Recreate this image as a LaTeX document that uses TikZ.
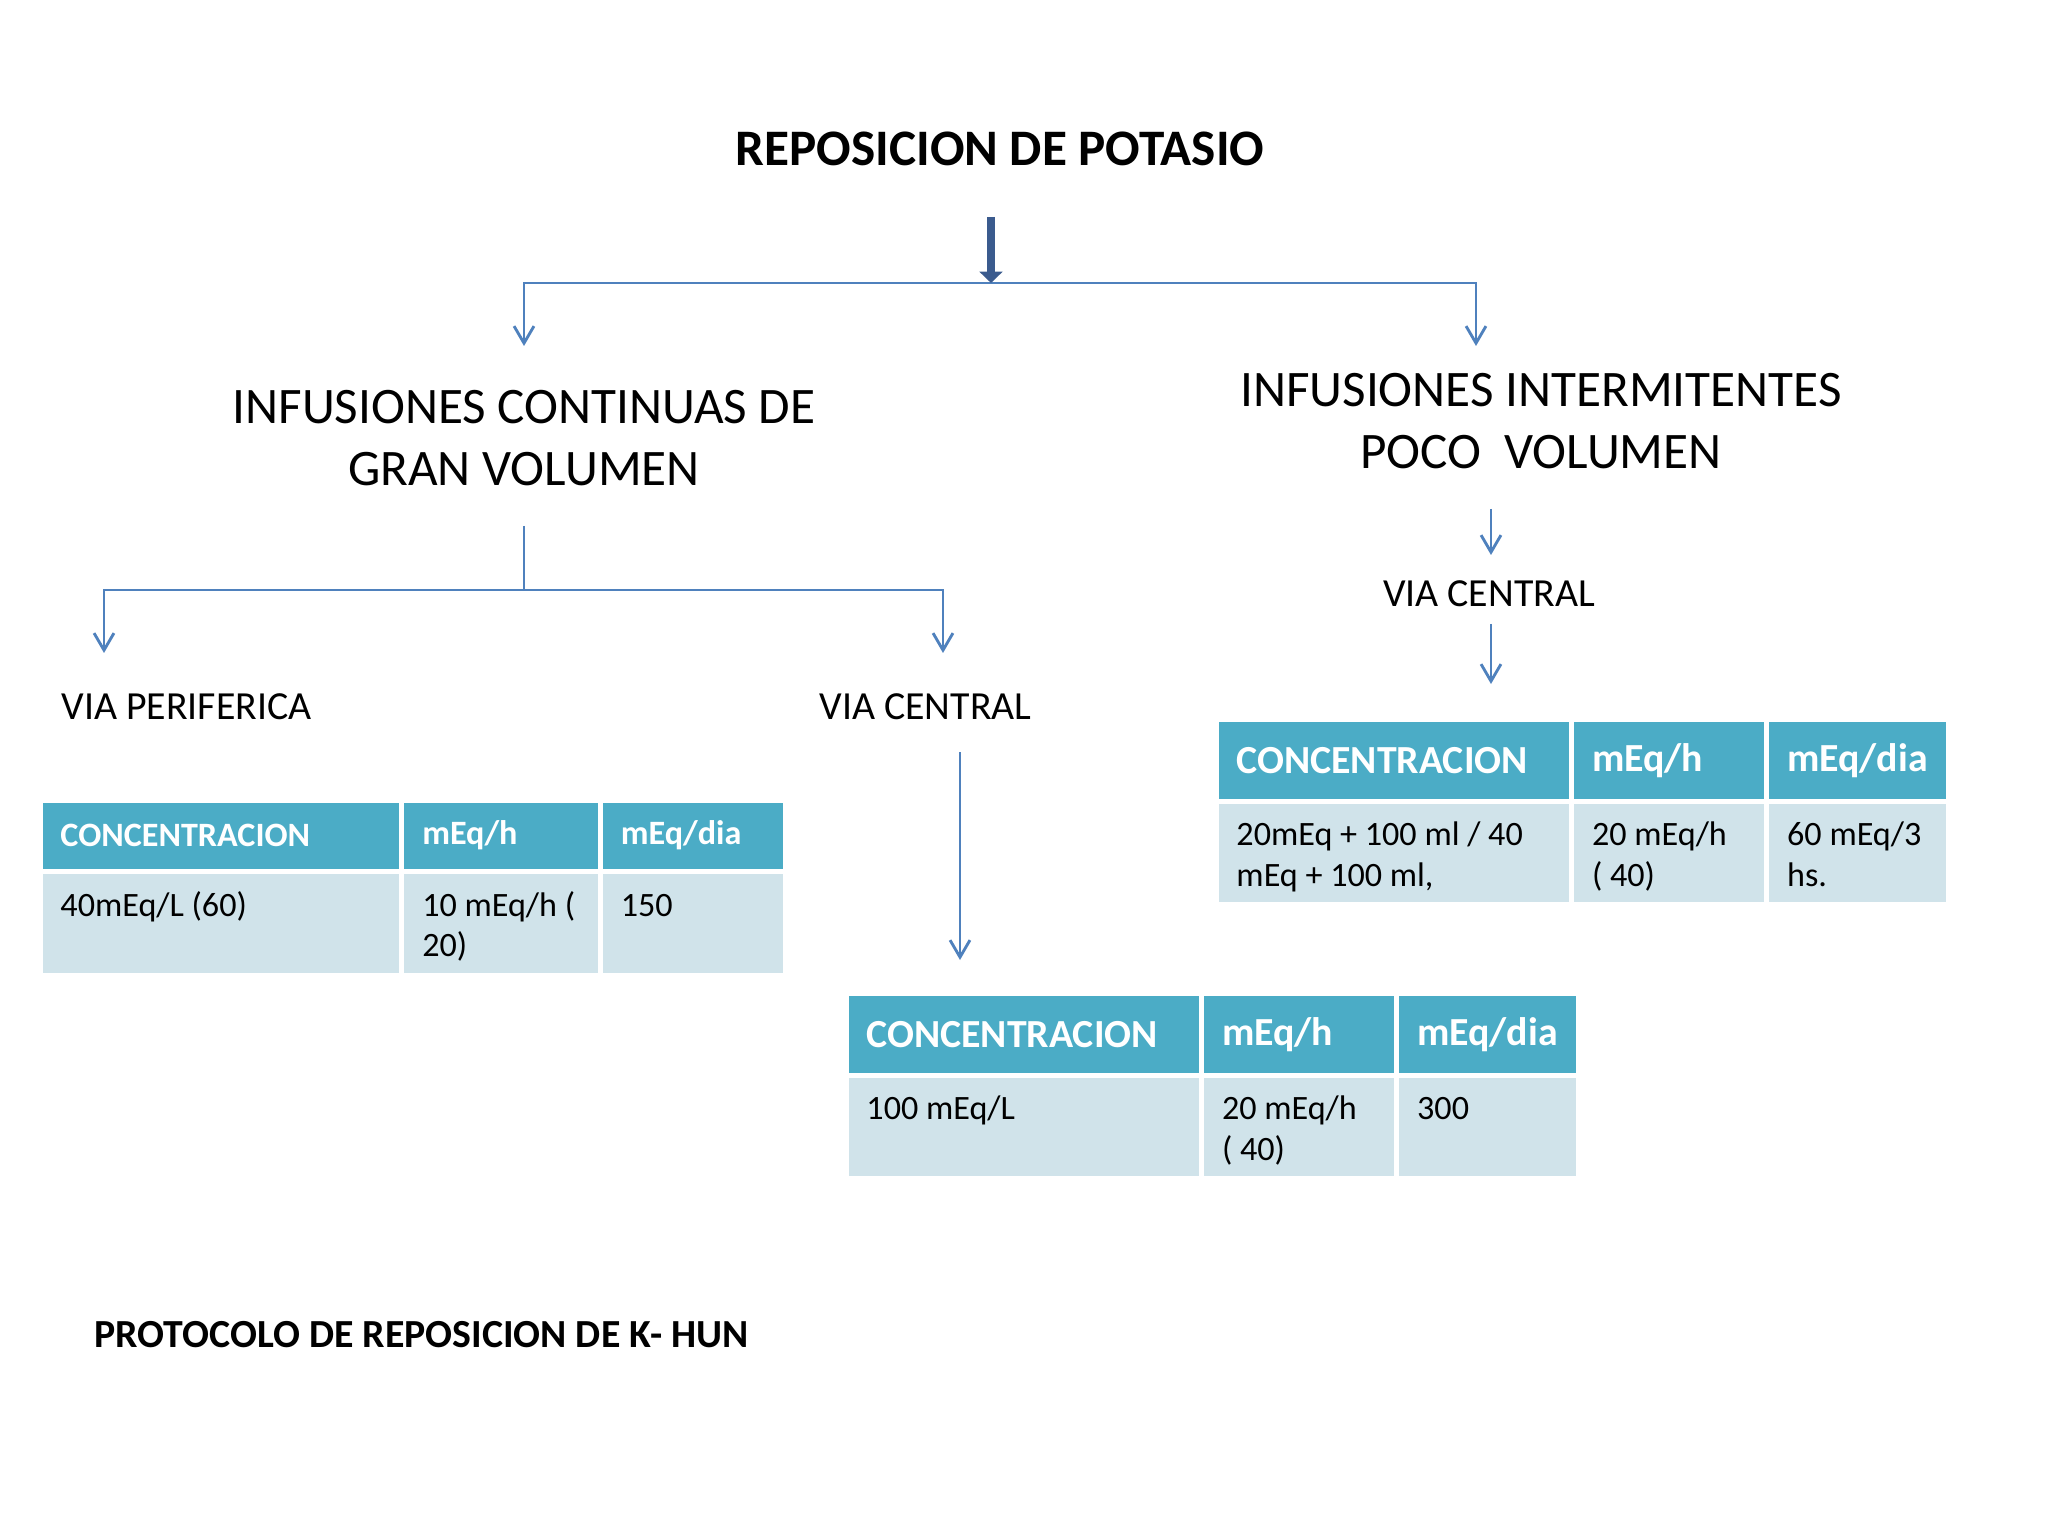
\documentclass[tikz,border=0pt]{standalone}
\usepackage{fontspec}
\setmainfont{Carlito}
\usetikzlibrary{arrows.meta,positioning}

\definecolor{linkblue}{RGB}{79,129,189}
\definecolor{arrowdark}{RGB}{59,91,142}
\definecolor{hdrblue}{RGB}{75,172,198}
\definecolor{rowblue}{RGB}{208,227,234}

\newcommand\kstrut{\rule{0pt}{13.7pt}}

\tikzset{
    link/.style={draw=linkblue, line width=1pt},
    linkarrow/.style={link, -{Straight Barb[length=6pt,width=7pt]}},
    bigarrow/.style={draw=arrowdark, line width=2.8pt, -{Triangle[width=8pt,length=4pt]}},
    heading/.style={align=center, inner sep=0pt, font=\fontsize{18}{21.6}\selectfont},
    via/.style={inner sep=0pt, font=\fontsize{14}{16.8}\selectfont},
    cell/.style={draw=white, line width=1.8pt, outer sep=0pt, inner xsep=7.2pt, inner ysep=0pt, align=flush left},
    hdrcell/.style={cell, fill=hdrblue, text=white, font=\bfseries\fontsize{#1}{#1}\selectfont},
    rowcell/.style={cell, fill=rowblue, font=\fontsize{12}{14.4}\selectfont},
    colA/.style={minimum width=125pt, text width=110.6pt},
    colB/.style={minimum width=68.6pt, text width=54.2pt},
    colC/.style={minimum width=64pt, text width=49.6pt},
    pcolA/.style={minimum width=127.2pt, text width=112.8pt},
    pcolB/.style={minimum width=69.8pt, text width=55.4pt},
    pcolC/.style={minimum width=65.2pt, text width=50.8pt}
}

\begin{document}
\begin{tikzpicture}[x=0.3515625pt, y=-0.3515625pt]
    \useasboundingbox (0,0) rectangle (2048,1536);
    \fill[white] (0,0) rectangle (2048,1536);

    \node[font=\bfseries\fontsize{18}{21.6}\selectfont] (title) at (1000,149) {REPOSICION DE POTASIO};
    \node[heading] (cont) at (524,438) {INFUSIONES CONTINUAS DE\\GRAN VOLUMEN};
    \node[heading] (inter) at (1541,421) {INFUSIONES INTERMITENTES\\POCO\ \ VOLUMEN};
    \node[via, anchor=west] (viaP) at (61,707) {VIA PERIFERICA};
    \node[via, anchor=west] (viaC) at (819,707) {VIA CENTRAL};
    \node[via] (viaR) at (1489,594) {VIA CENTRAL};
    \node[anchor=west, inner sep=0pt, font=\bfseries\fontsize{14}{16.8}\selectfont] (prot) at (94,1335) {PROTOCOLO DE REPOSICION DE K- HUN};

    % connectors
    \coordinate (tA) at (991,217);
    \coordinate (jT) at (991,283);
    \coordinate (aL) at (524,346);
    \coordinate (aR) at (1476,346);
    \coordinate (cB) at (524,526);
    \coordinate (jM) at (524,590);
    \coordinate (aPL) at (104,653);
    \coordinate (aPR) at (943,653);
    \coordinate (rA) at (1491,509);
    \coordinate (rB) at (1491,555);
    \coordinate (rC) at (1491,624);
    \coordinate (rD) at (1491,684);
    \coordinate (mA) at (960,752);
    \coordinate (mB) at (960,960);

    \draw[linkarrow] (jT) -| (aL);
    \draw[linkarrow] (jT) -| (aR);
    \draw[link] (cB) -- (jM);
    \draw[linkarrow] (jM) -| (aPL);
    \draw[linkarrow] (jM) -| (aPR);
    \draw[linkarrow] (rA) -- (rB);
    \draw[linkarrow] (rC) -- (rD);
    \draw[linkarrow] (mA) -- (mB);
    \draw[bigarrow] (tA) -- (jT);

    % tabla via periferica
    \node[hdrcell=12, pcolA, minimum height=25pt, anchor=north west] (pCon) at (40,800) {CONCENTRACION};
    \node[hdrcell=12, pcolB, minimum height=25pt, right=0pt of pCon] (pRate) {mEq/h};
    \node[hdrcell=12, pcolC, minimum height=25pt, right=0pt of pRate] (pDay) {mEq/dia};
    \node[rowcell, pcolA, minimum height=36.6pt, below=0pt of pCon] (pConV) {\kstrut 40mEq/L~(60)\\\strut};
    \node[rowcell, pcolB, minimum height=36.6pt, below=0pt of pRate] (pRateV) {\kstrut 10~mEq/h~(\\\strut 20)};
    \node[rowcell, pcolC, minimum height=36.6pt, below=0pt of pDay] (pDayV) {\kstrut 150\\\strut};

    % tabla via central
    \node[hdrcell=14, colA, minimum height=29pt, anchor=north west] (cCon) at (846,993) {CONCENTRACION};
    \node[hdrcell=14, colB, minimum height=29pt, right=0pt of cCon] (cRate) {mEq/h};
    \node[hdrcell=14, colC, minimum height=29pt, right=0pt of cRate] (cDay) {mEq/dia};
    \node[rowcell, colA, minimum height=36.2pt, below=0pt of cCon] (cConV) {\kstrut 100~mEq/L\\\strut};
    \node[rowcell, colB, minimum height=36.2pt, below=0pt of cRate] (cRateV) {\kstrut 20~mEq/h\\\strut (~40)};
    \node[rowcell, colC, minimum height=36.2pt, below=0pt of cDay] (cDayV) {\kstrut 300\\\strut};

    % tabla intermitentes
    \node[hdrcell=14, colA, minimum height=29pt, anchor=north west] (iCon) at (1216,719) {CONCENTRACION};
    \node[hdrcell=14, colB, minimum height=29pt, right=0pt of iCon] (iRate) {mEq/h};
    \node[hdrcell=14, colC, minimum height=29pt, right=0pt of iRate] (iDay) {mEq/dia};
    \node[rowcell, colA, minimum height=36.2pt, below=0pt of iCon] (iConV) {\kstrut 20mEq~+~100~ml~/~40\\\strut mEq~+~100~ml,};
    \node[rowcell, colB, minimum height=36.2pt, below=0pt of iRate] (iRateV) {\kstrut 20~mEq/h\\\strut (~40)};
    \node[rowcell, colC, minimum height=36.2pt, below=0pt of iDay] (iDayV) {\kstrut 60~mEq/3\\\strut hs.};
\end{tikzpicture}
\end{document}
